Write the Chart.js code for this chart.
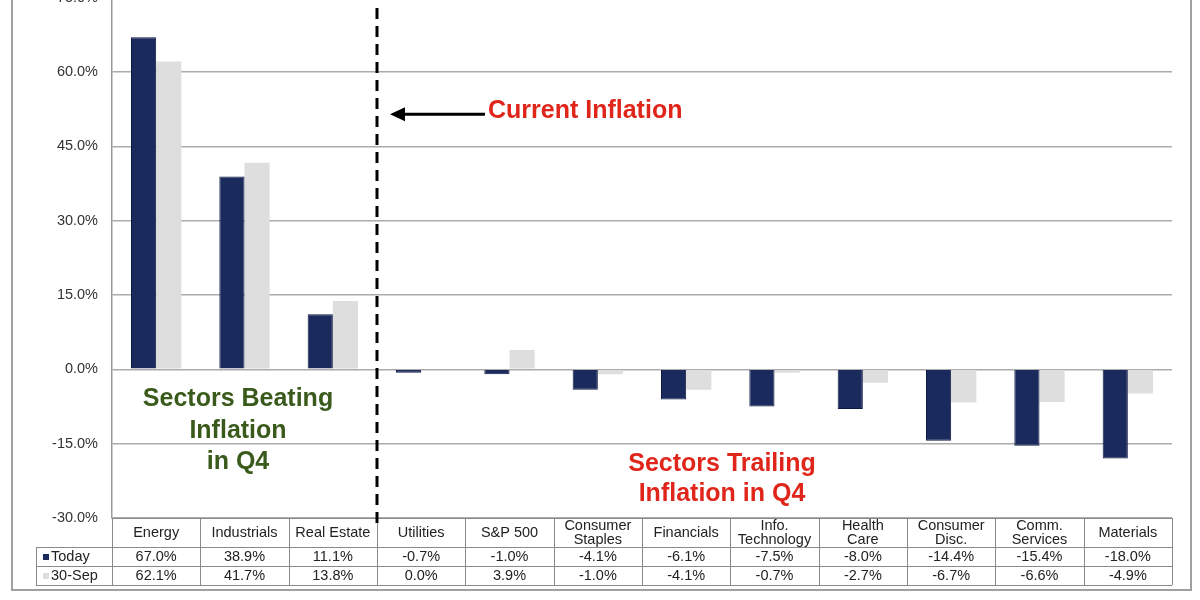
<!DOCTYPE html>
<html>
<head>
<meta charset="utf-8">
<script src="https://cdn.jsdelivr.net/npm/chart.js@4/dist/chart.umd.min.js"></script>
<style>
  html,body{margin:0;padding:0;background:#fff;overflow:hidden;width:1200px;height:600px;}
  #wrap{position:absolute;left:0;top:-25px;width:1200px;height:625px;}
</style>
</head>
<body>
<div id="wrap"><canvas id="c"></canvas></div>
<script>
const categories = ["Energy", "Industrials", "Real Estate", "Utilities", "S&P 500",
  ["Consumer", "Staples"], "Financials", ["Info.", "Technology"], ["Health", "Care"],
  ["Consumer", "Disc."], ["Comm.", "Services"], "Materials"];
const todayValues = [67.0, 38.9, 11.1, -0.7, -1.0, -4.1, -6.1, -7.5, -8.0, -14.4, -15.4, -18.0];
const sepValues = [62.1, 41.7, 13.8, 0.0, 3.9, -1.0, -4.1, -0.7, -2.7, -6.7, -6.6, -4.9];
const seriesNames = ["Today", "30-Sep"];
const yTicks = [-30, -15, 0, 15, 30, 45, 60, 75];

const NAVY = "#1b2a5c";
const GREY = "#dedede";
const FONT = "'Liberation Sans', Arial, sans-serif";
const OFF = 25; // canvas is shifted up by this many px

const fmt = v => v.toFixed(1) + "%";

const decor = {
  id: "decor",
  afterDraw(chart) {
    const ctx = chart.ctx;
    const x = chart.scales.x, y = chart.scales.y;
    const ca = chart.chartArea;
    const w = x.getPixelForValue(1) - x.getPixelForValue(0);
    const b = ca.bottom;
    const r1 = b + 29, r2 = b + 48, r3 = b + 67;
    const labelLeft = 36;
    ctx.save();
    // table lines
    ctx.strokeStyle = "#8a8a8a";
    ctx.lineWidth = 1;
    ctx.beginPath();
    ctx.moveTo(ca.left, b + 0.5); ctx.lineTo(ca.right, b + 0.5);
    [r1, r2, r3].forEach(yy => { ctx.moveTo(labelLeft, yy + 0.5); ctx.lineTo(ca.right, yy + 0.5); });
    for (let i = 0; i <= categories.length; i++) {
      const xx = Math.round(x.getPixelForValue(i) - w / 2) + 0.5;
      ctx.moveTo(xx, b); ctx.lineTo(xx, r3);
    }
    ctx.moveTo(labelLeft + 0.5, r1); ctx.lineTo(labelLeft + 0.5, r3);
    ctx.stroke();

    // header text
    ctx.fillStyle = "#222";
    ctx.font = "14.5px " + FONT;
    ctx.textAlign = "center";
    ctx.textBaseline = "middle";
    categories.forEach((c, i) => {
      const cx = x.getPixelForValue(i);
      if (Array.isArray(c)) {
        ctx.fillText(c[0], cx, b + 8);
        ctx.fillText(c[1], cx, b + 22);
      } else {
        ctx.fillText(c, cx, b + 15);
      }
      ctx.fillText(fmt(todayValues[i]), cx, r1 + 10);
      ctx.fillText(fmt(sepValues[i]), cx, r2 + 10);
    });
    // legend cells
    ctx.textAlign = "left";
    ctx.fillStyle = NAVY;
    ctx.fillRect(labelLeft + 7, r1 + 7, 6, 6);
    ctx.fillStyle = GREY;
    ctx.fillRect(labelLeft + 7, r2 + 7, 6, 6);
    ctx.fillStyle = "#222";
    ctx.fillText(seriesNames[0], labelLeft + 15, r1 + 10);
    ctx.fillText(seriesNames[1], labelLeft + 15, r2 + 10);

    // dashed divider between Real Estate and Utilities
    const dx = (x.getPixelForValue(2) + x.getPixelForValue(3)) / 2;
    ctx.strokeStyle = "#000";
    ctx.lineWidth = 3;
    ctx.setLineDash([11, 7]);
    ctx.beginPath();
    ctx.moveTo(dx, 8 + OFF); ctx.lineTo(dx, b + 10);
    ctx.stroke();
    ctx.setLineDash([]);

    // arrow
    const ay = y.getPixelForValue(51.5);
    ctx.lineWidth = 3;
    ctx.beginPath();
    ctx.moveTo(dx + 108, ay); ctx.lineTo(dx + 24, ay);
    ctx.stroke();
    ctx.fillStyle = "#000";
    ctx.beginPath();
    ctx.moveTo(dx + 13, ay);
    ctx.lineTo(dx + 28, ay - 7);
    ctx.lineTo(dx + 28, ay + 7);
    ctx.closePath();
    ctx.fill();

    // annotations
    ctx.font = "bold 25px " + FONT;
    ctx.fillStyle = "#e0261b";
    ctx.textAlign = "left";
    ctx.fillText("Current Inflation", dx + 111, ay - 3);

    ctx.textAlign = "center";
    ctx.fillStyle = "#3a5a1c";
    const gx = 238;
    ctx.fillText("Sectors Beating", gx, y.getPixelForValue(-6.1));
    ctx.fillText("Inflation", gx, y.getPixelForValue(-12.4));
    ctx.fillText("in Q4", gx, y.getPixelForValue(-18.8));

    ctx.fillStyle = "#e0261b";
    const rx = 722;
    ctx.fillText("Sectors Trailing", rx, y.getPixelForValue(-19.2));
    ctx.fillText("Inflation in Q4", rx, y.getPixelForValue(-25.2));

    // outer frame
    ctx.strokeStyle = "#a0a0a0";
    ctx.lineWidth = 2;
    ctx.beginPath();
    ctx.moveTo(12, 0); ctx.lineTo(12, 590 + OFF); ctx.lineTo(1191, 590 + OFF); ctx.lineTo(1191, 0);
    ctx.stroke();
    ctx.restore();
  }
};

new Chart(document.getElementById("c"), {
  type: "bar",
  data: {
    labels: categories,
    datasets: [
      { label: seriesNames[0], data: todayValues, backgroundColor: NAVY, borderColor: "#0f1a40", borderWidth: 1,
        categoryPercentage: 0.57, barPercentage: 1.0 },
      { label: seriesNames[1], data: sepValues, backgroundColor: GREY, borderWidth: 0,
        categoryPercentage: 0.57, barPercentage: 1.0 }
    ]
  },
  options: {
    responsive: true,
    maintainAspectRatio: false,
    animation: false,
    layout: { padding: { top: 6, right: 28, bottom: 82, left: 0 } },
    plugins: { legend: { display: false }, tooltip: { enabled: false } },
    scales: {
      x: { display: false, grid: { display: false } },
      y: {
        min: -30, max: 75,
        afterFit(s) { s.width = 112; },
        afterBuildTicks(s) { s.ticks = yTicks.map(v => ({ value: v })); },
        ticks: { callback: v => fmt(v), color: "#333", font: { family: FONT, size: 14.5 }, padding: 14 },
        grid: { color: "#ababab", lineWidth: 1.5, drawTicks: false },
        border: { display: true, color: "#999", width: 1.5 }
      }
    }
  },
  plugins: [decor]
});
</script>
</body>
</html>
